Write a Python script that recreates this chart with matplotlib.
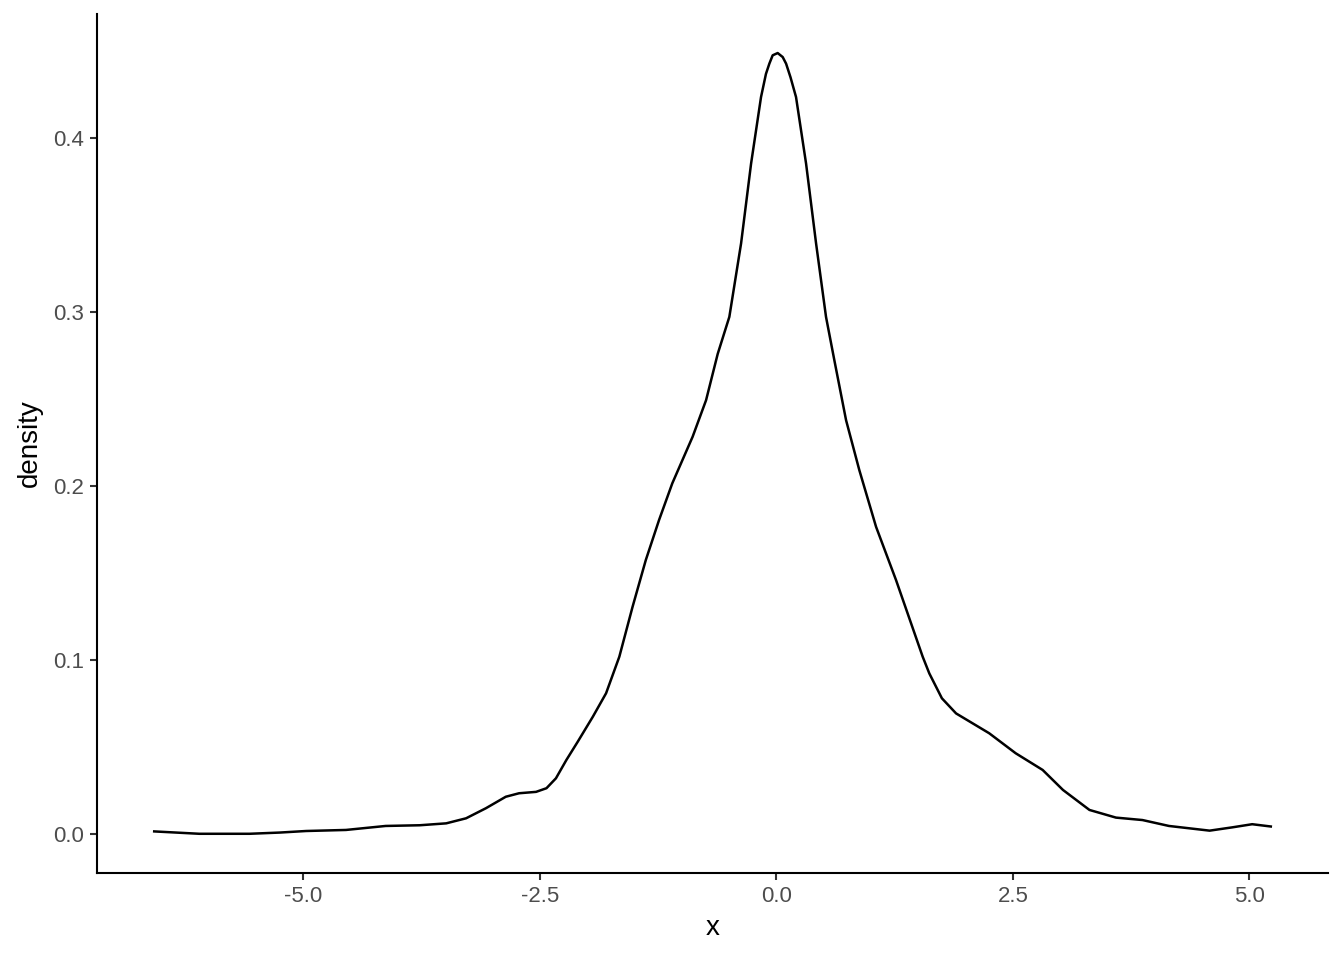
import matplotlib
matplotlib.use("Agg")
import matplotlib.pyplot as plt

x_vals = [-6.59, -6.10, -5.57, -5.25, -4.97, -4.55, -4.13, -3.77, -3.49, -3.28,
          -3.07, -2.86, -2.72, -2.54, -2.43, -2.33, -2.22, -2.10, -1.94, -1.80,
          -1.66, -1.52, -1.38, -1.24, -1.10, -0.885, -0.743, -0.62, -0.497, -0.373,
          -0.267, -0.162, -0.110, -0.074, -0.039, 0.014, 0.067, 0.103, 0.150, 0.208,
          0.314, 0.42, 0.525, 0.613, 0.737, 0.877, 1.054, 1.265, 1.547, 1.617,
          1.75, 1.90, 2.25, 2.53, 2.815, 3.03, 3.31, 3.59, 3.87, 4.15,
          4.58, 4.82, 5.03, 5.24]
density_vals = [0.0015, 0.0001, 0.0001, 0.0008, 0.0017, 0.0023, 0.0046, 0.0050, 0.0061, 0.0090,
                0.0148, 0.0214, 0.0234, 0.0242, 0.0263, 0.0320, 0.0425, 0.0530, 0.0674, 0.0809,
                0.1019, 0.1306, 0.1575, 0.1805, 0.2016, 0.2284, 0.2494, 0.2760, 0.2973, 0.3395,
                0.3855, 0.4237, 0.4370, 0.4429, 0.4477, 0.4490, 0.4467, 0.4429, 0.4350, 0.4237,
                0.3855, 0.3395, 0.2973, 0.2724, 0.2379, 0.2092, 0.1766, 0.1460, 0.1019, 0.0923,
                0.0780, 0.0693, 0.0579, 0.0464, 0.0368, 0.0253, 0.0138, 0.0094, 0.0080, 0.0046,
                0.0019, 0.0038, 0.0056, 0.0042]

x_ticks = [-5.0, -2.5, 0.0, 2.5, 5.0]
x_tick_labels = ["-5.0", "-2.5", "0.0", "2.5", "5.0"]
y_ticks = [0.0, 0.1, 0.2, 0.3, 0.4]
y_tick_labels = ["0.0", "0.1", "0.2", "0.3", "0.4"]

plt.rcParams['font.family'] = ['Liberation Sans', 'DejaVu Sans']

fig = plt.figure(figsize=(13.44, 9.6), dpi=100)
ax = fig.add_axes([97/1344, 87/960, (1328-97)/1344, (873-14)/960])
ax.plot(x_vals, density_vals, color='black', linewidth=1.8,
        solid_joinstyle='round', solid_capstyle='butt')

xr = max(x_vals) - min(x_vals)
ax.set_xlim(min(x_vals) - 0.05*xr, max(x_vals) + 0.05*xr)
yr = max(density_vals) - 0
ax.set_ylim(0 - 0.05*yr, max(density_vals) + 0.05*yr)

ax.set_xticks(x_ticks)
ax.set_xticklabels(x_tick_labels)
ax.set_yticks(y_ticks)
ax.set_yticklabels(y_tick_labels)

for s in ['top', 'right']:
    ax.spines[s].set_visible(False)
for s in ['left', 'bottom']:
    ax.spines[s].set_linewidth(1.5)
    ax.spines[s].set_color('black')

ax.tick_params(axis='both', length=5, width=1.5, color='#333333',
               labelcolor='#4D4D4D', labelsize=16, pad=4)
ax.set_xlabel('x', fontsize=20, color='black', labelpad=6)
ax.set_ylabel('density', fontsize=20, color='black', labelpad=8)

fig.savefig('out.png', dpi=100, facecolor='white')
